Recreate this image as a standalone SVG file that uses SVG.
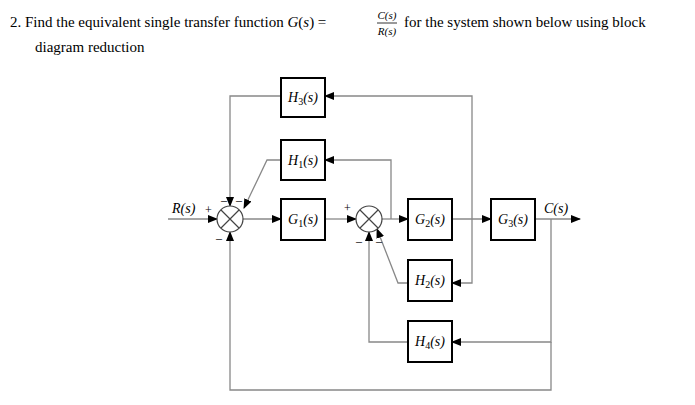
<svg xmlns="http://www.w3.org/2000/svg" width="695" height="405" viewBox="0 0 695 405">
<style>
.t{font-family:"Liberation Serif",serif;font-size:15px;fill:#000}
.i{font-family:"Liberation Serif",serif;font-size:14px;font-style:italic;fill:#000}
.b{fill:#fff;stroke:#000;stroke-width:2}
.w{fill:none;stroke:#888;stroke-width:1.3}
.s{fill:#fff;stroke:#444;stroke-width:1.2}
</style>
<defs><marker id="a" markerWidth="10" markerHeight="8" refX="9" refY="4" orient="auto" markerUnits="userSpaceOnUse"><path d="M0,0 L10,4 L0,8z" fill="#000"/></marker></defs>
<text class="t" x="10" y="27">2.  Find the equivalent single transfer function <tspan font-style="italic">G</tspan>(<tspan font-style="italic">s</tspan>) =</text>
<text x="387" y="19" font-family="Liberation Serif,serif" font-size="11" text-anchor="middle" font-style="italic">C(s)</text>
<line x1="377" y1="23" x2="397" y2="23" stroke="#000" stroke-width="0.8"/>
<text x="387" y="35" font-family="Liberation Serif,serif" font-size="11" text-anchor="middle" font-style="italic">R(s)</text>
<text class="t" x="404" y="27">for the system shown below using block</text>
<text class="t" x="35" y="52">diagram reduction</text>
<g id="connectors">
<path class="w" d="M168,219 H217" marker-end="url(#a)"/>
<path class="w" d="M243,219 H281" marker-end="url(#a)"/>
<path class="w" d="M325,219 H356" marker-end="url(#a)"/>
<path class="w" d="M382,219 H408" marker-end="url(#a)"/>
<path class="w" d="M452,219 H491" marker-end="url(#a)"/>
<path class="w" d="M535,219 H580" marker-end="url(#a)"/>
<path class="w" d="M391,219 V160 H325" marker-end="url(#a)"/>
<path class="w" d="M281,160 H267 L244,208" marker-end="url(#a)"/>
<path class="w" d="M472,219 V96 H325" marker-end="url(#a)"/>
<path class="w" d="M281,96 H230 V206" marker-end="url(#a)"/>
<path class="w" d="M472,219 V283 H452" marker-end="url(#a)"/>
<path class="w" d="M408,283 H398 L377,229" marker-end="url(#a)"/>
<path class="w" d="M551,219 V342 H452" marker-end="url(#a)"/>
<path class="w" d="M408,342 H369 V232" marker-end="url(#a)"/>
<path class="w" d="M551,342 V390 H230 V232" marker-end="url(#a)"/>
</g>
<g id="sum1"><circle class="s" cx="230" cy="219" r="13"/><path d="M221,210 L239,228 M239,210 L221,228" stroke="#444" stroke-width="1.2"/></g>
<g id="sum2"><circle class="s" cx="369" cy="219" r="13"/><path d="M360,210 L378,228 M378,210 L360,228" stroke="#444" stroke-width="1.2"/></g>
<g id="signs" font-family="Liberation Serif,serif" font-size="12">
<text x="205" y="214">+</text><text x="221" y="204">–</text><text x="236" y="204">–</text><text x="216" y="242">–</text>
<text x="344" y="212">+</text><text x="356" y="245">–</text><text x="376" y="245">–</text>
</g>
<g id="H3"><rect class="b" x="281" y="78" width="44" height="39"/><text class="i" x="303" y="102" text-anchor="middle">H<tspan font-size="10" font-style="normal" dy="3">3</tspan><tspan dy="-3">(s)</tspan></text></g>
<g id="H1"><rect class="b" x="281" y="140" width="44" height="40"/><text class="i" x="303" y="165" text-anchor="middle">H<tspan font-size="10" font-style="normal" dy="3">1</tspan><tspan dy="-3">(s)</tspan></text></g>
<g id="G1"><rect class="b" x="281" y="199" width="44" height="41"/><text class="i" x="303" y="224" text-anchor="middle">G<tspan font-size="10" font-style="normal" dy="3">1</tspan><tspan dy="-3">(s)</tspan></text></g>
<g id="G2"><rect class="b" x="408" y="199" width="44" height="41"/><text class="i" x="430" y="224" text-anchor="middle">G<tspan font-size="10" font-style="normal" dy="3">2</tspan><tspan dy="-3">(s)</tspan></text></g>
<g id="G3"><rect class="b" x="491" y="199" width="44" height="41"/><text class="i" x="513" y="224" text-anchor="middle">G<tspan font-size="10" font-style="normal" dy="3">3</tspan><tspan dy="-3">(s)</tspan></text></g>
<g id="H2"><rect class="b" x="408" y="260" width="44" height="41"/><text class="i" x="430" y="285" text-anchor="middle">H<tspan font-size="10" font-style="normal" dy="3">2</tspan><tspan dy="-3">(s)</tspan></text></g>
<g id="H4"><rect class="b" x="408" y="321" width="44" height="41"/><text class="i" x="430" y="346" text-anchor="middle">H<tspan font-size="10" font-style="normal" dy="3">4</tspan><tspan dy="-3">(s)</tspan></text></g>
<text class="i" x="172" y="213">R(s)</text>
<text class="i" x="544" y="213">C(s)</text>
</svg>
